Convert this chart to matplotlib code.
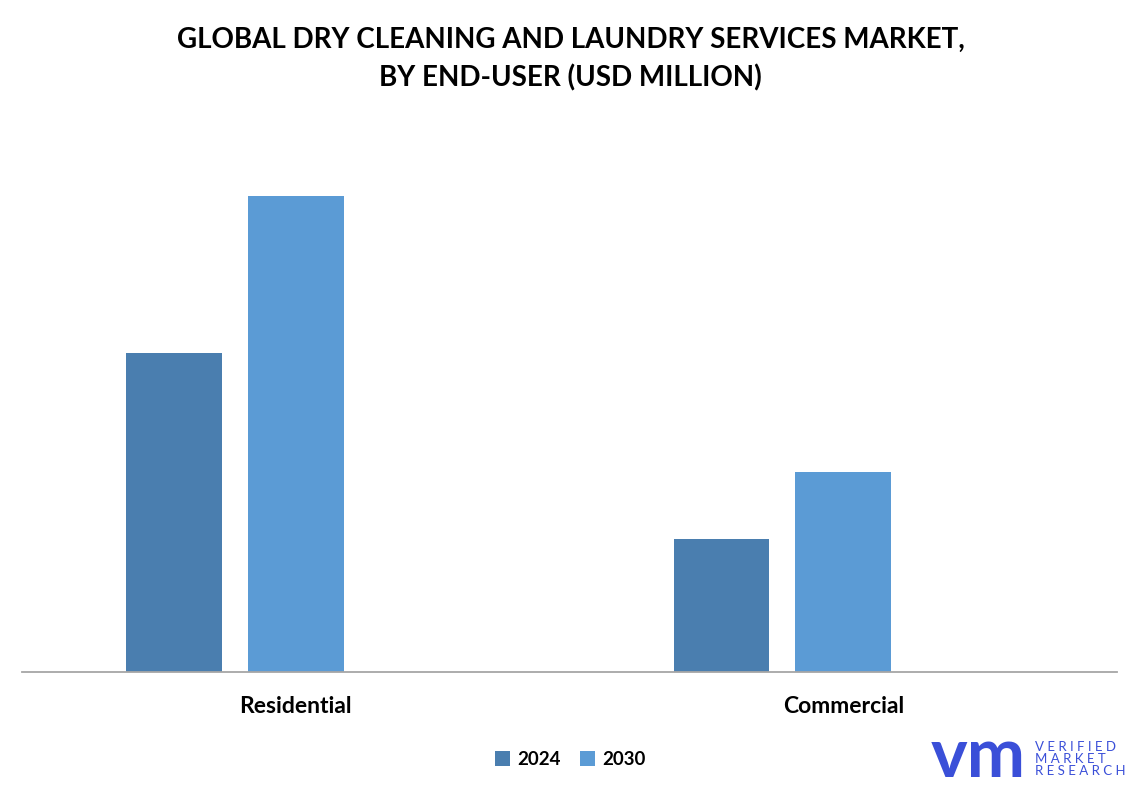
import matplotlib.pyplot as plt
import numpy as np

plt.rcParams['font.family'] = ['Lato', 'DejaVu Sans']

categories = ['Residential', 'Commercial']
years = ['2024', '2030']
values_2024 = [63.8, 26.6]
values_2030 = [95.2, 40.0]
colors = ['#4A7EAF', '#5B9BD5']

fig = plt.figure(figsize=(11.41, 7.92), dpi=100)
ax = fig.add_axes([0.0193, 0.1515, 0.9597, 0.6845])

x = np.arange(len(categories))
w = 0.175
ax.bar(x - 0.2225, values_2024, w, color=colors[0], label=years[0])
ax.bar(x, values_2030, w, color=colors[1], label=years[1])

ax.set_xlim(-0.5, 1.5)
ax.set_ylim(0, 108.4)
ax.set_xticks(x)
ax.set_xticklabels(categories, fontsize=16.5, fontweight='bold')
ax.tick_params(axis='x', length=0, pad=17)
ax.set_yticks([])
for s in ['top', 'right', 'left']:
    ax.spines[s].set_visible(False)
ax.spines['bottom'].set_color('#a6a6a6')
ax.spines['bottom'].set_linewidth(1.3)

fig.text(0.5, 0.966, 'GLOBAL DRY CLEANING AND LAUNDRY SERVICES MARKET,\nBY END-USER (USD MILLION)',
         ha='center', va='top', fontsize=20, fontweight='bold', linespacing=1.5)

fig.legend(loc='center', bbox_to_anchor=(0.5, 0.041), ncol=2, frameon=False,
           prop={'size': 13.5, 'weight': 'bold'}, handlelength=0.8, handleheight=0.8,
           handletextpad=0.4, columnspacing=1.0)

# logo
fig.text(0.816, 0.044, 'vm', color='#3A4FD8', fontsize=50, fontweight='bold',
         ha='left', va='center')
fig.text(0.907, 0.042, 'V E R I F I E D\nM A R K E T\nR E S E A R C H', color='#3A4FD8',
         fontsize=9.5, ha='left', va='center', linespacing=1.0)

fig.savefig('out.png')
